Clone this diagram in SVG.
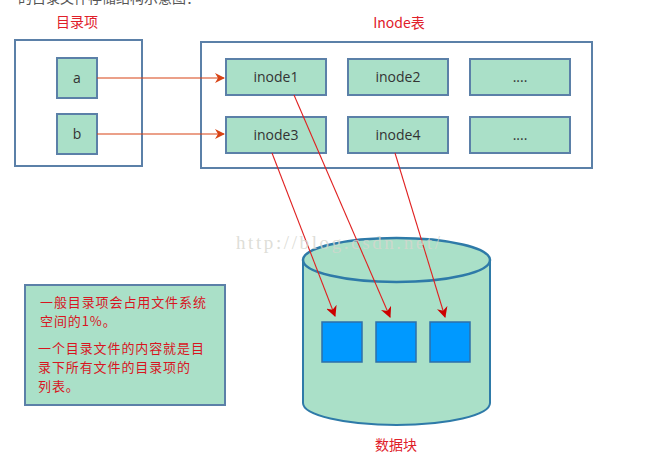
<svg xmlns="http://www.w3.org/2000/svg" width="660" height="463" viewBox="0 0 660 463">
<style>
.frame{fill:#fff;stroke:#5b80a8;stroke-width:2}
.cell{fill:#aae0c8;stroke:#5b80a8;stroke-width:2}
.t{font-family:"Open Sans","Liberation Sans",sans-serif;font-size:14px;fill:#333;text-anchor:middle}
.red{font-family:"Noto Sans CJK SC","Liberation Sans",sans-serif;font-size:14px;fill:#e0202a;text-anchor:middle}
.note{font-family:"Noto Sans CJK SC",sans-serif;font-size:13px;letter-spacing:0.9px;fill:#d8151f}
.blk{fill:#0099ff;stroke:#2e6fa8;stroke-width:1.5}
.h{stroke:#d84315;stroke-width:1.2;fill:none}
.r{stroke:#e02020;stroke-width:1.1;fill:none}
</style>
<defs>
<marker id="ah" viewBox="0 0 10 10" refX="9" refY="5" markerWidth="10" markerHeight="10" markerUnits="userSpaceOnUse" orient="auto"><path d="M0,0 L10,5 L0,10 L3,5 z" fill="#d84315"/></marker>
<marker id="ar" viewBox="0 0 10 10" refX="9" refY="5" markerWidth="11" markerHeight="11" markerUnits="userSpaceOnUse" orient="auto"><path d="M0,0 L10,5 L0,10 L3,5 z" fill="#cc0000"/></marker>
</defs>
<text x="18" y="3" font-family="Noto Sans CJK SC,sans-serif" font-size="14" fill="#555">的目录文件存储结构示意图：</text>
<text class="red" x="77" y="27">目录项</text>
<text class="red" x="399" y="28">Inode表</text>
<g id="dir"><rect class="frame" x="15" y="40" width="127" height="126"/></g>
<g id="a"><rect class="cell" x="57" y="58" width="40" height="40"/><text class="t" x="77" y="83">a</text></g>
<g id="b"><rect class="cell" x="57" y="114" width="40" height="40"/><text class="t" x="77" y="139">b</text></g>
<g id="itable"><rect class="frame" x="201" y="42" width="391" height="126"/></g>
<g id="inode1"><rect class="cell" x="226" y="59" width="100" height="36"/><text class="t" x="276" y="82">inode1</text></g>
<g id="inode2"><rect class="cell" x="348" y="59" width="100" height="36"/><text class="t" x="398" y="82">inode2</text></g>
<g id="dots1"><rect class="cell" x="470" y="59" width="100" height="36"/><text class="t" x="520" y="82">....</text></g>
<g id="inode3"><rect class="cell" x="226" y="117" width="100" height="36"/><text class="t" x="276" y="140">inode3</text></g>
<g id="inode4"><rect class="cell" x="348" y="117" width="100" height="36"/><text class="t" x="398" y="140">inode4</text></g>
<g id="dots2"><rect class="cell" x="470" y="117" width="100" height="36"/><text class="t" x="520" y="140">....</text></g>
<g id="disk">
<path d="M303,260 L303,403 A93.5,22 0 0 0 490,403 L490,260" fill="#aae0c8" stroke="#2e7aa8" stroke-width="2"/>
<ellipse cx="396.5" cy="260" rx="93.5" ry="22" fill="#aae0c8" stroke="#2e7aa8" stroke-width="2.5"/>
<rect class="blk" x="322" y="322" width="40" height="40"/>
<rect class="blk" x="376" y="322" width="40" height="40"/>
<rect class="blk" x="430" y="322" width="40" height="40"/>
<text class="red" x="396" y="450">数据块</text>
</g>
<g id="note">
<rect x="25" y="285" width="200" height="120" fill="#aae0c8" stroke="#5b80a8" stroke-width="2"/>
<text class="note" x="40" y="307">一般目录项会占用文件系统</text>
<text class="note" x="40" y="326">空间的1%。</text>
<text class="note" x="38" y="353">一个目录文件的内容就是目</text>
<text class="note" x="38" y="372">录下所有文件的目录项的</text>
<text class="note" x="38" y="391">列表。</text>
</g>
<g id="connectors">
<line class="h" x1="97" y1="78" x2="224" y2="78" marker-end="url(#ah)"/>
<line class="h" x1="97" y1="134" x2="224" y2="134" marker-end="url(#ah)"/>
<line class="r" x1="272" y1="153" x2="335" y2="316" marker-end="url(#ar)"/>
<line class="r" x1="294" y1="95" x2="390" y2="317" marker-end="url(#ar)"/>
<line class="r" x1="395" y1="153" x2="445" y2="317" marker-end="url(#ar)"/>
</g>
<text x="236" y="249" font-family="Liberation Serif,serif" font-size="19" letter-spacing="2.6" fill="#d6d6ce" fill-opacity="0.8">http://blog.csdn.net/</text>
</svg>
